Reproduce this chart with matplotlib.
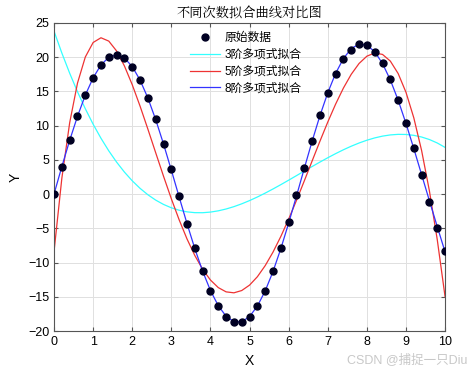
import numpy as np
import matplotlib
matplotlib.use('Agg')
import matplotlib.pyplot as plt

plt.rcParams['font.family'] = ['Liberation Sans', 'Noto Sans CJK SC', 'DejaVu Sans']

# sample points
x = [0.0, 0.2, 0.4, 0.6, 0.8, 1.0, 1.2, 1.4, 1.6, 1.8,
     2.0, 2.2, 2.4, 2.6, 2.8, 3.0, 3.2, 3.4, 3.6, 3.8,
     4.0, 4.2, 4.4, 4.6, 4.8, 5.0, 5.2, 5.4, 5.6, 5.8,
     6.0, 6.2, 6.4, 6.6, 6.8, 7.0, 7.2, 7.4, 7.6, 7.8,
     8.0, 8.2, 8.4, 8.6, 8.8, 9.0, 9.2, 9.4, 9.6, 9.8, 10.0]
y = [0.0, 4.0, 7.9, 11.35, 14.5, 17.0, 18.85, 19.97, 20.3, 19.8,
     18.6, 16.6, 14.0, 10.9, 7.35, 3.6, -0.3, -4.3, -7.9, -11.25,
     -14.1, -16.4, -17.9, -18.7, -18.7, -17.9, -16.4, -14.1, -11.2, -7.9,
     -4.1, -0.2, 3.8, 7.7, 11.5, 14.8, 17.6, 19.7, 21.1, 21.9,
     21.7, 20.7, 19.1, 16.8, 13.8, 10.4, 6.7, 2.8, -1.1, -4.9, -8.3]

orders = [3, 5, 8]
colors = ['#33ffff', '#ee3333', '#3333ff']
labels = ['3阶多项式拟合', '5阶多项式拟合', '8阶多项式拟合']

fig = plt.figure(figsize=(4.74, 3.75), dpi=100)
ax = fig.add_axes([0.114, 0.117, 0.825, 0.822])

ax.plot(x, y, 'o', color='#000022', markersize=5, label='原始数据', zorder=5)
for n, c, lab in zip(orders, colors, labels):
    p = np.polyfit(x, y, n)
    ax.plot(x, np.polyval(p, x), '-', color=c, linewidth=0.9, label=lab)

ax.set_xlim(0, 10)
ax.set_ylim(-20, 25)
ax.set_xticks(range(0, 11))
ax.set_yticks(range(-20, 26, 5))
ax.grid(True, color='#e0e0e0', linewidth=0.7)
ax.tick_params(direction='in', top=True, right=True, labelsize=9, length=3, color='#555555')
for s in ax.spines.values():
    s.set_color('#555555')
    s.set_linewidth(0.8)

ax.set_xlabel('X', fontsize=10)
ax.set_ylabel('Y', fontsize=10)
ax.set_title('不同次数拟合曲线对比图', fontsize=9.5, family=['Noto Serif CJK SC', 'Noto Sans CJK SC'], pad=4)

leg = ax.legend(loc='upper left', bbox_to_anchor=(0.335, 0.985), borderaxespad=0, frameon=False,
                handlelength=2.6, labelspacing=0.4, handletextpad=0.35,
                prop={'family': ['Liberation Sans', 'Noto Sans CJK SC'], 'size': 8.5})

fig.text(0.985, 0.025, 'CSDN @捕捉一只Diu', ha='right', va='bottom', fontsize=9, color='#c8c8c8')

fig.savefig('out.png', dpi=100)
